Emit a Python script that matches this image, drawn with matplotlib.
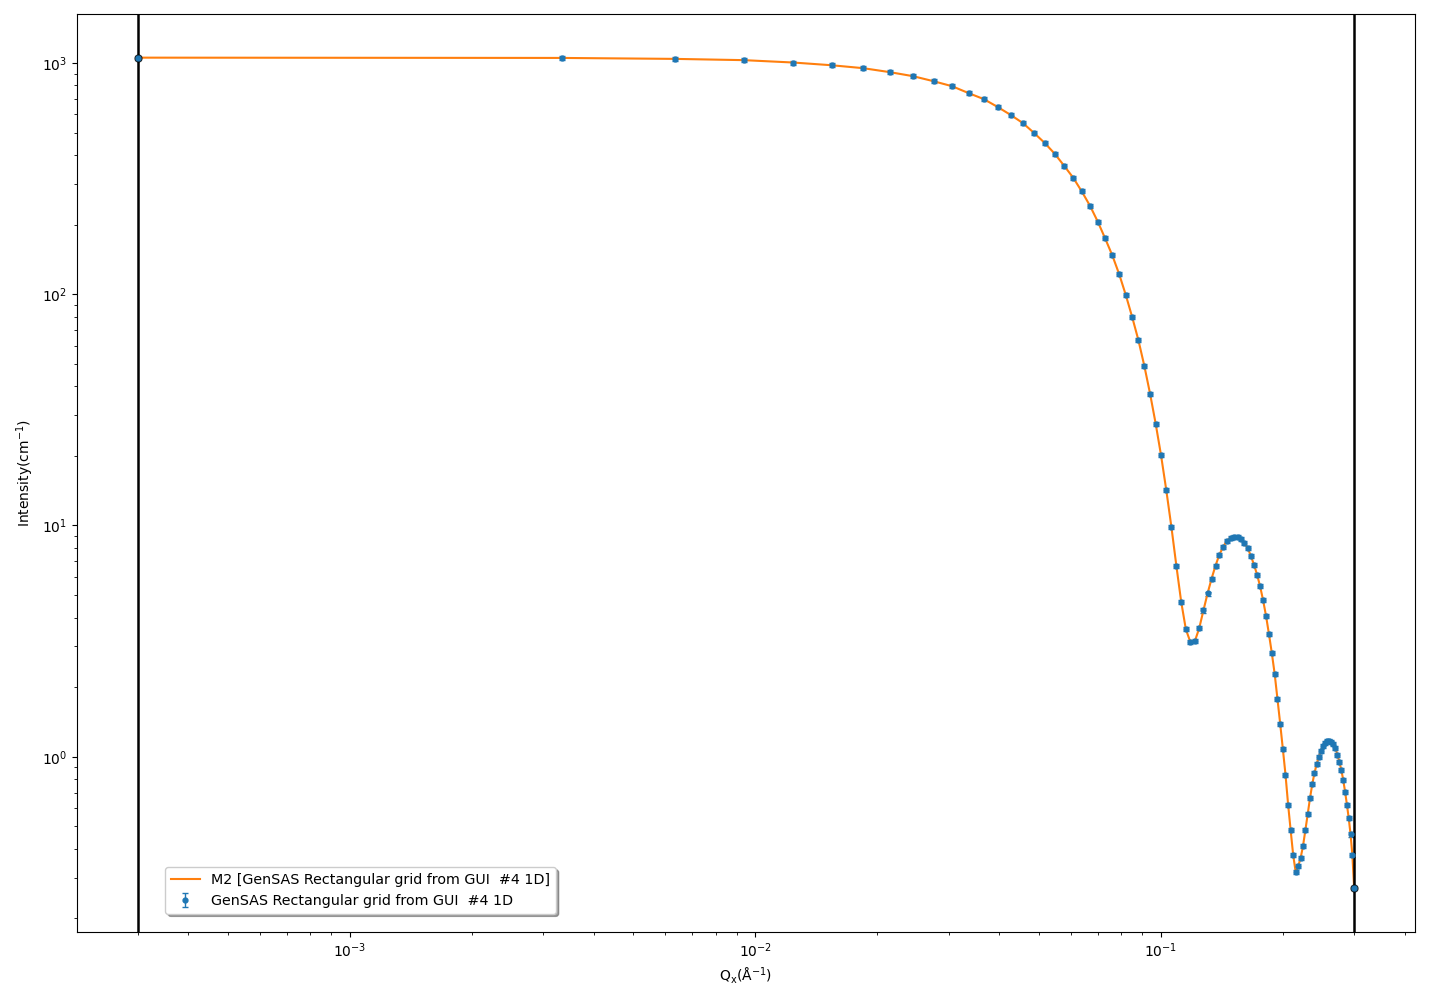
import matplotlib
matplotlib.use("Agg")
import numpy as np
import matplotlib.pyplot as plt

# Q grid (1/A), uniform from 0.0003 to 0.3
q = [0.00030, 0.00333, 0.00635, 0.00938, 0.01241, 0.01544, 0.01846, 0.02149, 0.02452, 0.02755,
     0.03057, 0.03360, 0.03663, 0.03965, 0.04268, 0.04571, 0.04874, 0.05176, 0.05479, 0.05782,
     0.06085, 0.06387, 0.06690, 0.06993, 0.07295, 0.07598, 0.07901, 0.08204, 0.08506, 0.08809,
     0.09112, 0.09415, 0.09717, 0.10020, 0.10323, 0.10625, 0.10928, 0.11231, 0.11534, 0.11836,
     0.12139, 0.12442, 0.12745, 0.13047, 0.13350, 0.13653, 0.13955, 0.14258, 0.14561, 0.14864,
     0.15166, 0.15469, 0.15772, 0.16075, 0.16377, 0.16680, 0.16983, 0.17286, 0.17588, 0.17891,
     0.18194, 0.18497, 0.18799, 0.19102, 0.19405, 0.19708, 0.20010, 0.20313, 0.20616, 0.20918,
     0.21221, 0.21524, 0.21827, 0.22129, 0.22432, 0.22735, 0.23038, 0.23340, 0.23643, 0.23946,
     0.24248, 0.24551, 0.24854, 0.25157, 0.25459, 0.25762, 0.26065, 0.26368, 0.26670, 0.26973,
     0.27276, 0.27579, 0.27881, 0.28184, 0.28487, 0.28790, 0.29092, 0.29395, 0.29697, 0.30000]

# intensity (1/cm)
intensity = [1055, 1052, 1042, 1029, 1005, 978, 950, 913, 877, 834,
             794, 741, 698, 645, 596, 550, 498, 451, 405, 359,
             319, 278.5, 241.7, 206.3, 174.3, 147.2, 122.0, 99.1, 79.6, 63.4,
             49.0, 37.1, 27.6, 20.1, 14.2, 9.87, 6.71, 4.69, 3.56, 3.13,
             3.16, 3.59, 4.29, 5.08, 5.89, 6.71, 7.48, 8.09, 8.59, 8.85,
             8.94, 8.94, 8.76, 8.42, 8.01, 7.40, 6.77, 6.13, 5.45, 4.74,
             4.05, 3.38, 2.80, 2.28, 1.78, 1.39, 1.08, 0.837, 0.621, 0.480,
             0.375, 0.317, 0.336, 0.364, 0.410, 0.480, 0.563, 0.66, 0.76, 0.85,
             0.93, 1.00, 1.06, 1.11, 1.15, 1.17, 1.17, 1.16, 1.13, 1.09,
             1.02, 0.952, 0.879, 0.796, 0.707, 0.621, 0.541, 0.461, 0.375, 0.270]

rel_err = 0.02  # relative uncertainty on the data
fit_range = [0.0003, 0.3]

data_label = "GenSAS Rectangular grid from GUI  #4 1D"
model_label = "M2 [GenSAS Rectangular grid from GUI  #4 1D]"

q = np.array(q)
intensity = np.array(intensity)

fig = plt.figure(figsize=(14.3, 10.02), dpi=100)
ax = fig.add_axes([0.0538, 0.0699, 0.9357, 0.9162])

ax.errorbar(q, intensity, yerr=intensity * rel_err, fmt="o", color="C0",
            markersize=3.5, capsize=2, elinewidth=1, label=data_label)
ax.plot(q, intensity, color="C1", lw=1.5, label=model_label)

# fit range markers
for xr in fit_range:
    ax.axvline(xr, color="black", lw=1.8)
ax.plot([q[0], q[-1]], [intensity[0], intensity[-1]], "o", color="black",
        alpha=0.75, markersize=5)

ax.set_xscale("log")
ax.set_yscale("log")
ax.set_xlabel(r"Q$_{\mathrm{x}}$(Å$^{-1}$)")
ax.set_ylabel(r"Intensity(cm$^{-1}$)")

ax.legend(loc=(0.066, 0.02), shadow=True, fontsize=10.3)

fig.savefig("out.png", dpi=100)
